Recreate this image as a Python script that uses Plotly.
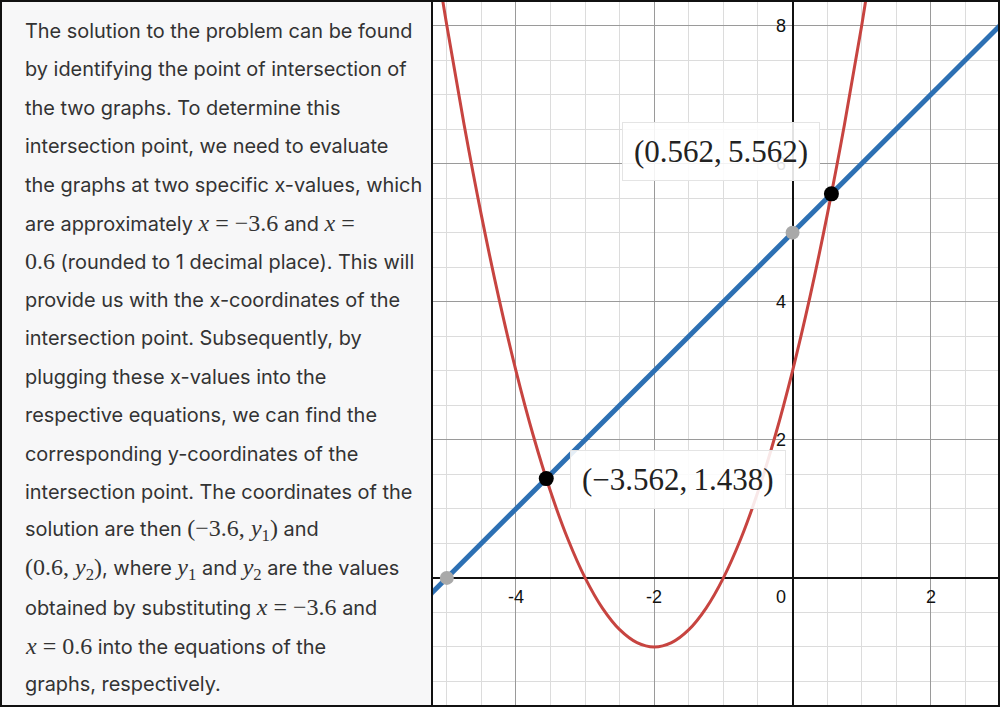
import plotly.graph_objects as go

# curves (blue line and red parabola)
line_x = [-5.5, 3.5]
line_y = [-0.5, 8.5]

parab_x = [-5.25, -5.0, -4.75, -4.5, -4.25, -4.0, -3.75, -3.5, -3.25, -3.0, -2.75, -2.5, -2.25, -2.0,
           -1.75, -1.5, -1.25, -1.0, -0.75, -0.5, -0.25, 0.0, 0.25, 0.5, 0.75, 1.0, 1.25]
parab_y = [9.5625, 8.0, 6.5625, 5.25, 4.0625, 3.0, 2.0625, 1.25, 0.5625, 0.0, -0.4375, -0.75, -0.9375, -1.0,
           -0.9375, -0.75, -0.4375, 0.0, 0.5625, 1.25, 2.0625, 3.0, 4.0625, 5.25, 6.5625, 8.0, 9.5625]

# marked points
inter_x = [-3.562, 0.562]
inter_y = [1.438, 5.562]
inter_labels = ["(−3.562,&#8201;1.438)", "(0.562,&#8201;5.562)"]
grey_x = [-5, 0]
grey_y = [0, 5]

x_tick_vals = [-4, -2, 2]
y_tick_vals = [2, 4, 6, 8]

M = "<span style=\"font-family:'Liberation Serif';font-size:24px\">"
E = "</span>"
text_lines = [
    "The solution to the problem can be found",
    "by identifying the point of intersection of",
    "the two graphs. To determine this",
    "intersection point, we need to evaluate",
    "the graphs at two specific x-values, which",
    "are approximately " + M + "<i>x</i> = −3.6" + E + " and " + M + "<i>x</i> =" + E,
    M + "0.6" + E + " (rounded to 1 decimal place). This will",
    "provide us with the x-coordinates of the",
    "intersection point. Subsequently, by",
    "plugging these x-values into the",
    "respective equations, we can find the",
    "corresponding y-coordinates of the",
    "intersection point. The coordinates of the",
    "solution are then " + M + "(−3.6, <i>y</i><sub>1</sub>)" + E + " and",
    M + "(0.6, <i>y</i><sub>2</sub>)" + E + ", where " + M + "<i>y</i><sub>1</sub>" + E
    + " and " + M + "<i>y</i><sub>2</sub>" + E + " are the values",
    "obtained by substituting " + M + "<i>x</i> = −3.6" + E + " and",
    M + "<i>x</i> = 0.6" + E + " into the equations of the",
    "graphs, respectively.",
]

W, H = 1000, 707
fig = go.Figure()

fig.add_trace(go.Scatter(x=parab_x, y=parab_y, mode="lines", line=dict(color="#c74440", width=3, shape="spline"),
                         hoverinfo="skip"))
fig.add_trace(go.Scatter(x=line_x, y=line_y, mode="lines", line=dict(color="#2d70b3", width=5), hoverinfo="skip"))
fig.add_trace(go.Scatter(x=grey_x, y=grey_y, mode="markers", marker=dict(color="#a9a9a9", size=14), hoverinfo="skip"))
fig.add_trace(go.Scatter(x=inter_x, y=inter_y, mode="markers", marker=dict(color="#000000", size=15), hoverinfo="skip"))

# left text panel
fig.add_shape(type="rect", xref="paper", yref="paper", x0=0, x1=0.432, y0=0, y1=1,
              fillcolor="#f7f7f8", line=dict(width=0), layer="above")
fig.add_shape(type="line", xref="paper", yref="paper", x0=0.432, x1=0.432, y0=0, y1=1,
              line=dict(color="#111", width=2), layer="above")
fig.add_shape(type="rect", xref="paper", yref="paper", x0=0.001, x1=0.999, y0=0.0015, y1=0.9985,
              line=dict(color="#111", width=2), layer="above")

for i, t in enumerate(text_lines):
    py = 31 + 38.41 * i
    fig.add_annotation(x=23 / W, y=1 - py / H, xref="paper", yref="paper", text=t, showarrow=False,
                       xanchor="left", yanchor="middle", font=dict(family="Inter", size=19.9, color="#333333"))

# tick labels
for v in x_tick_vals:
    fig.add_annotation(x=v, y=0, text=str(v), showarrow=False, yshift=-19,
                       font=dict(family="Liberation Sans", size=18, color="#111"))
for v in y_tick_vals:
    fig.add_annotation(x=0, y=v, text=str(v), showarrow=False, xshift=-12,
                       font=dict(family="Liberation Sans", size=18, color="#111"))
fig.add_annotation(x=0, y=0, text="0", showarrow=False, xshift=-12, yshift=-19,
                   font=dict(family="Liberation Sans", size=18, color="#111"))

# point labels
label_pos = [(-1.66, 1.43), (-1.03, 6.17)]
for (lx, ly), t in zip(label_pos, inter_labels):
    fig.add_annotation(x=lx, y=ly, text=t, showarrow=False, bgcolor="rgba(255,255,255,0.88)",
                       bordercolor="#e4e4e4", borderwidth=1, borderpad=11,
                       font=dict(family="Liberation Serif", size=31, color="#222"))

fig.update_layout(
    width=W, height=H, margin=dict(l=0, r=0, t=0, b=0),
    plot_bgcolor="white", paper_bgcolor="white", showlegend=False,
    xaxis=dict(domain=[0.433, 1.0], range=[-5.2, 3.0], tick0=0, dtick=2, showticklabels=False, ticks="",
               showgrid=True, gridcolor="#9a9a9a", gridwidth=1,
               minor=dict(dtick=0.5, showgrid=True, gridcolor="#dcdcdc", gridwidth=1),
               zeroline=True, zerolinecolor="#111", zerolinewidth=2, fixedrange=True),
    yaxis=dict(domain=[0, 1], range=[-1.87, 8.37], tick0=0, dtick=2, showticklabels=False, ticks="",
               showgrid=True, gridcolor="#9a9a9a", gridwidth=1,
               minor=dict(dtick=0.5, showgrid=True, gridcolor="#dcdcdc", gridwidth=1),
               zeroline=True, zerolinecolor="#111", zerolinewidth=2, fixedrange=True),
)

fig.write_html("out.html", config={"displayModeBar": False},
               post_script="document.body.style.margin='0';")
